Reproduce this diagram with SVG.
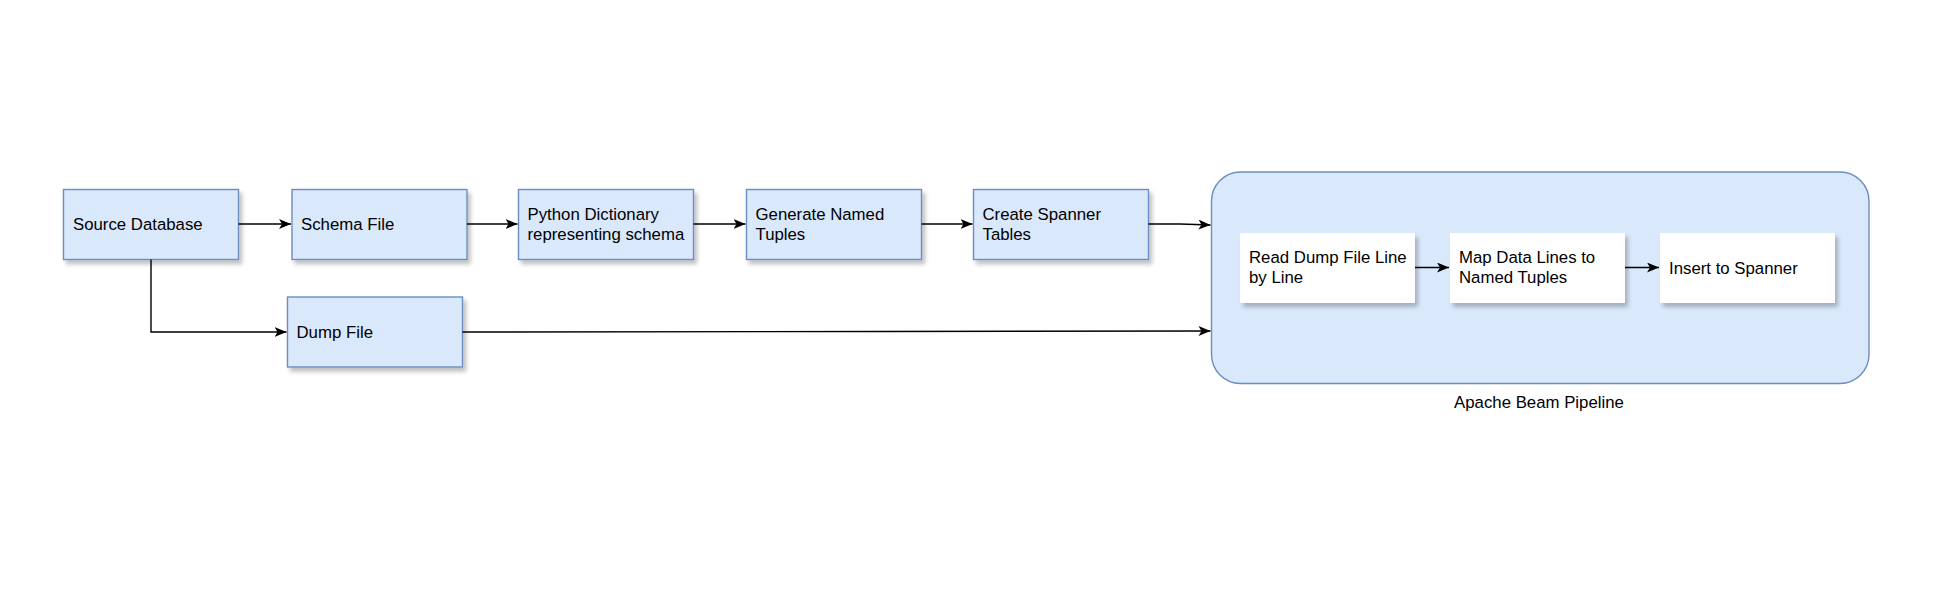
<svg xmlns="http://www.w3.org/2000/svg" width="1940" height="590" viewBox="0 0 1940 590">
<defs>
<style>
.node{fill:#dae8fc;stroke:#6c8ebf;stroke-width:1.4;}
.inner{fill:#ffffff;stroke:none;}
.lbl{font-family:"Liberation Sans",Arial,Helvetica,sans-serif;font-size:16.8px;fill:#000000;}
.edge{fill:none;stroke:#000000;stroke-width:1.4;}
</style>
<filter id="sh" x="-10%" y="-10%" width="130%" height="140%">
<feGaussianBlur in="SourceAlpha" stdDeviation="2"/>
<feOffset dx="3" dy="4" result="o"/>
<feComponentTransfer><feFuncA type="linear" slope="0.25"/></feComponentTransfer>
<feMerge><feMergeNode/><feMergeNode in="SourceGraphic"/></feMerge>
</filter>
<marker id="arr" markerUnits="userSpaceOnUse" markerWidth="13" markerHeight="11" refX="12" refY="5" orient="auto">
<path d="M0,0 L12,5 L0,10 L3,5 Z" fill="#000000"/>
</marker>
</defs>
<rect width="1940" height="590" fill="#ffffff"/>

<g id="pipeline">
<rect class="node" x="1211.5" y="172" width="657.5" height="211.5" rx="29" ry="29"/>
<text class="lbl" x="1539" y="408" text-anchor="middle">Apache Beam Pipeline</text>
</g>

<g id="source-database">
<rect class="node" x="63.5" y="189.5" width="175" height="70" filter="url(#sh)"/>
<text class="lbl" x="73" y="229.5">Source Database</text>
</g>
<g id="schema-file">
<rect class="node" x="292" y="189.5" width="175" height="70" filter="url(#sh)"/>
<text class="lbl" x="301" y="229.5">Schema File</text>
</g>
<g id="python-dictionary">
<rect class="node" x="518.5" y="189.5" width="175" height="70" filter="url(#sh)"/>
<text class="lbl" x="527.5" y="219.5">Python Dictionary</text>
<text class="lbl" x="527.5" y="239.5">representing schema</text>
</g>
<g id="generate-named-tuples">
<rect class="node" x="746.5" y="189.5" width="175" height="70" filter="url(#sh)"/>
<text class="lbl" x="755.5" y="219.5">Generate Named</text>
<text class="lbl" x="755.5" y="239.5">Tuples</text>
</g>
<g id="create-spanner-tables">
<rect class="node" x="973.5" y="189.5" width="175" height="70" filter="url(#sh)"/>
<text class="lbl" x="982.5" y="219.5">Create Spanner</text>
<text class="lbl" x="982.5" y="239.5">Tables</text>
</g>
<g id="dump-file">
<rect class="node" x="287.5" y="297" width="175" height="70" filter="url(#sh)"/>
<text class="lbl" x="296.5" y="337.5">Dump File</text>
</g>

<g id="read-dump">
<rect class="inner" x="1240" y="233" width="175" height="70" filter="url(#sh)"/>
<text class="lbl" x="1249" y="262.5">Read Dump File Line</text>
<text class="lbl" x="1249" y="282.5">by Line</text>
</g>
<g id="map-data">
<rect class="inner" x="1450" y="233" width="175" height="70" filter="url(#sh)"/>
<text class="lbl" x="1459" y="262.5">Map Data Lines to</text>
<text class="lbl" x="1459" y="282.5">Named Tuples</text>
</g>
<g id="insert-spanner">
<rect class="inner" x="1660" y="233" width="175" height="70" filter="url(#sh)"/>
<text class="lbl" x="1669" y="273.5">Insert to Spanner</text>
</g>

<g id="connectors">
<path class="edge" marker-end="url(#arr)" d="M238.5,224 L291,224"/>
<path class="edge" marker-end="url(#arr)" d="M467,224 L517.5,224"/>
<path class="edge" marker-end="url(#arr)" d="M693.5,224 L745.5,224"/>
<path class="edge" marker-end="url(#arr)" d="M921.5,224 L972.5,224"/>
<path class="edge" marker-end="url(#arr)" d="M1148.5,224 L1180,224 L1210.5,225"/>
<path class="edge" marker-end="url(#arr)" d="M151,259.5 L151,332 L286.5,332"/>
<path class="edge" marker-end="url(#arr)" d="M462.5,332 L880,331.5 L1210.5,331"/>
<path class="edge" marker-end="url(#arr)" d="M1415,267.5 L1449,267.5"/>
<path class="edge" marker-end="url(#arr)" d="M1625,267.5 L1659,267.5"/>
</g>
</svg>
